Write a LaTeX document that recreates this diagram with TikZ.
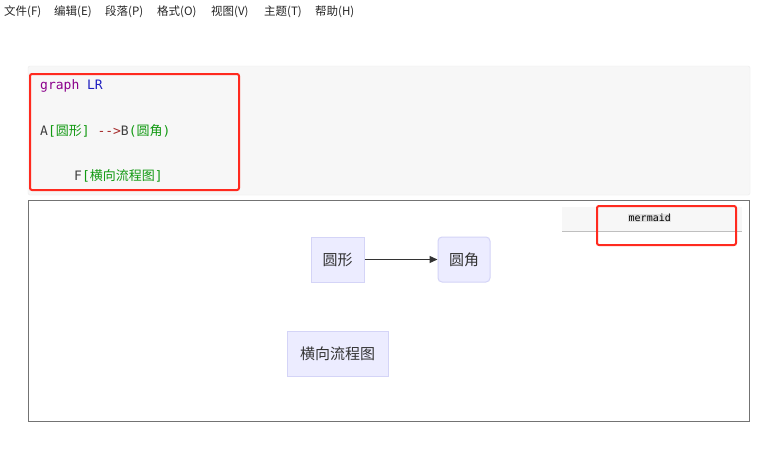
\documentclass[tikz,border=0pt]{standalone}
\usepackage{fontspec}
\setmainfont{Noto Sans CJK SC}
\newfontfamily\cjk{Noto Sans CJK SC}
\newfontfamily\mono{DejaVu Sans Mono}
\usetikzlibrary{arrows.meta}
\definecolor{codebg}{HTML}{F7F7F7}
\definecolor{nodefill}{HTML}{ECECFF}
\definecolor{nodeline}{HTML}{D4D4F7}
\definecolor{redbox}{HTML}{FF2A1F}
\definecolor{kw}{HTML}{8B008B}
\definecolor{kb}{HTML}{2020C0}
\definecolor{str}{HTML}{119911}
\definecolor{op}{HTML}{A52A2A}
\tikzset{
 menu/.style={anchor=west,font=\cjk\fontsize{11.5}{13}\selectfont,text=black!85,inner sep=0},
 code/.style={anchor=west,font=\mono\fontsize{13}{15}\selectfont,inner sep=0},
 mnode/.style={draw=nodeline,fill=nodefill,line width=1pt,font=\cjk\fontsize{15}{17}\selectfont,text=black!80,inner sep=0,minimum height=45pt},
 hl/.style={draw=redbox,line width=2pt,rounded corners=2pt}
}
\begin{document}
\begin{tikzpicture}[x=1pt,y=-1pt]
\useasboundingbox[fill=white] (0,0) rectangle (764,463);
\node[menu] (m1) at (4,12) {文件(F)};
\node[menu] (m2) at (54,12) {编辑(E)};
\node[menu] (m3) at (105,12) {段落(P)};
\node[menu] (m4) at (157,12) {格式(O)};
\node[menu] (m5) at (211,12) {视图(V)};
\node[menu] (m6) at (264,12) {主题(T)};
\node[menu] (m7) at (315,12) {帮助(H)};
\draw[draw=black!8,fill=codebg,rounded corners=2pt] (28,66) rectangle (750,195);
\node[code,text=kw] (c1) at (40,86) {graph \textcolor{kb}{LR}};
\node[code,text=black!75] (c2) at (40,131) {A\textcolor{str}{[{\cjk 圆形}]} \textcolor{op}{-{}->}B\textcolor{str}{({\cjk 圆角})}};
\node[code,text=black!75] (c3) at (74,176) {F\textcolor{str}{[{\cjk 横向流程图}]}};
\draw[hl] (30,74) rectangle (239,190);
\draw[black!55,line width=0.8pt] (28,200) rectangle (749,421);
\fill[codebg] (562,207) rectangle (742,231);
\draw[black!25] (562,231) -- (742,231);
\node[code,font=\mono\fontsize{10}{12}\selectfont,fill=black!12,inner sep=0.5pt] (mm) at (628,218) {mermaid};
\draw[hl] (597,206) rectangle (736,245);
\node[mnode,minimum width=53pt] (A) at (337.5,259.5) {圆形};
\node[mnode,minimum width=52pt,rounded corners=4pt] (B) at (464,259.5) {圆角};
\node[mnode,minimum width=101pt] (F) at (337.5,354) {横向流程图};
\draw[-{Triangle[length=8pt,width=7pt]},black!80,line width=1.3pt] (A) -- (B);
\end{tikzpicture}
\end{document}
